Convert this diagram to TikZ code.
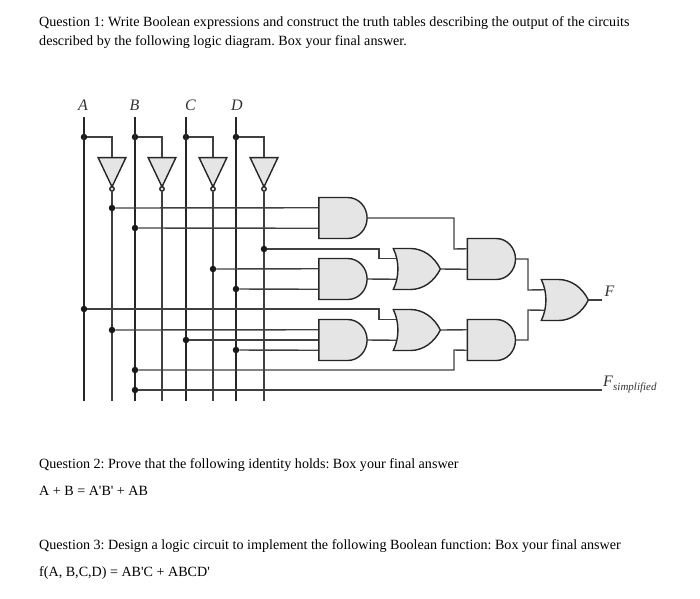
\documentclass[tikz,border=0pt]{standalone}
\usepackage{fontspec}
\setmainfont{Liberation Serif}[Ligatures=TeXOff]
\usetikzlibrary{shapes.gates.logic.US}
\tikzset{
  textline/.style={anchor=base west,inner sep=0,font=\fontsize{14.1}{16}\selectfont\frenchspacing},
  inlabel/.style={inner sep=0,font=\fontsize{16}{18}\selectfont\itshape,text=black!80},
  bus/.style={line width=1.8pt,draw=black!85},
  wire/.style={line width=1.4pt,draw=black!75},
  dotnode/.style={circle,fill=black!90,inner sep=0,minimum size=6.5pt},
  andgate/.style={and gate US,xscale=.94,draw=black!85,line width=1.4pt,fill=black!10,inner sep=0,logic gate inputs=nnn,
    minimum height=41pt,logic gate input sep=10pt},
  orgate/.style={or gate US,xscale=.84,draw=black!85,line width=1.4pt,fill=black!10,inner sep=0,logic gate inputs=nnn,
    minimum height=41pt,logic gate input sep=10pt},
  notgate/.style={not gate US,rotate=-90,scale=.85,draw=black!85,line width=1.4pt,fill=black!10,inner sep=0,
    minimum height=28pt,minimum width=28pt,logic gate inverted radius=2.6pt}
}
\begin{document}
\begin{tikzpicture}[x=1pt,y=-1pt]
\useasboundingbox (0,0) rectangle (700,598);
\node[textline](Q1a) at (39,26){Question 1: Write Boolean expressions and construct the truth tables describing the output of the circuits};
\node[textline](Q1b) at (39,45){described by the following logic diagram. Box your final answer.};
\node[textline](Q2a) at (39,468){Question 2: Prove that the following identity holds: Box your final answer};
\node[textline](Q2b) at (39,495){A + B = A'B' + AB};
\node[textline](Q3a) at (39,549){Question 3: Design a logic circuit to implement the following Boolean function: Box your final answer};
\node[textline](Q3b) at (39,576){f(A, B,C,D) = AB'C + ABCD'};
\node[inlabel](LA) at (83,105){A};
\node[inlabel](LB) at (134.5,105){B};
\node[inlabel](LC) at (190.5,105){C};
\node[inlabel](LD) at (237,105){D};
\coordinate(TA) at (84,117);
\coordinate(TB) at (135,117);
\coordinate(TC) at (186,117);
\coordinate(TD) at (236,117);
\coordinate(EA) at (84,401);
\coordinate(EB) at (135,401);
\coordinate(EC) at (186,401);
\coordinate(ED) at (236,401);
\coordinate(EAn) at (112,401);
\coordinate(EBn) at (162,401);
\coordinate(ECn) at (213,401);
\coordinate(EDn) at (264,401);
\node[notgate](NA) at (112,167.5){};
\node[notgate](NB) at (162,167.5){};
\node[notgate](NC) at (213,167.5){};
\node[notgate](ND) at (264,167.5){};
\node[dotnode](SA) at (84,137){};
\node[dotnode](SB) at (135,137){};
\node[dotnode](SC) at (186,137){};
\node[dotnode](SD) at (236,137){};
\draw[bus] (TA) -- (EA);
\draw[bus] (TB) -- (EB);
\draw[bus] (TC) -- (EC);
\draw[bus] (TD) -- (ED);
\draw[wire] (SA) -| (NA.input);
\draw[wire] (SB) -| (NB.input);
\draw[wire] (SC) -| (NC.input);
\draw[wire] (SD) -| (ND.input);
\draw[wire] (NA.output) -- (EAn);
\draw[wire] (NB.output) -- (EBn);
\draw[wire] (NC.output) -- (ECn);
\draw[wire] (ND.output) -- (EDn);
\node[andgate](G1) at (341.4,218){};
\node[andgate](G2) at (341.4,279){};
\node[andgate](G3) at (341.4,340){};
\node[orgate](O1) at (413.4,269){};
\node[orgate](O2) at (413.4,330){};
\node[andgate](G4) at (489.8,259){};
\node[andgate](G5) at (489.8,340){};
\node[orgate](O3) at (561.4,300){};
\node[dotnode](J1) at (112,208){};
\node[dotnode](J2) at (135,228){};
\node[dotnode](J3) at (264,249){};
\node[dotnode](J4) at (213,269){};
\node[dotnode](J5) at (236,289){};
\node[dotnode](J6) at (84,309){};
\node[dotnode](J7) at (112,330){};
\node[dotnode](J8) at (186,340){};
\node[dotnode](J9) at (236,350){};
\node[dotnode](J10) at (135,370){};
\node[dotnode](J11) at (135,390){};
\draw[wire] (J1) -- (G1.input 1);
\draw[wire] (J2) -- (G1.input 3);
\draw[wire] (J4) -- (G2.input 1);
\draw[wire] (J5) -- (G2.input 3);
\draw[wire] (J7) -- (G3.input 1);
\draw[wire] (J8) -- (G3.input 2);
\draw[wire] (J9) -- (G3.input 3);
\draw[wire] (J3) -- (379,249) |- (O1.input 1);
\draw[wire] (J6) -- (379,309) |- (O2.input 1);
\draw[wire] (G2.output) -- (O1.input 3);
\draw[wire] (G3.output) -- (O2.input 3);
\draw[wire] (G1.output) -| (454,249) -- (G4.input 1);
\draw[wire] (O1.output) -- (G4.input 3);
\draw[wire] (O2.output) -- (G5.input 1);
\draw[wire] (J10) -| (454,350) -- (G5.input 3);
\draw[wire] (G4.output) -| (528,290) -- (O3.input 1);
\draw[wire] (G5.output) -| (528,310) -- (O3.input 3);
\coordinate(FO) at (602,300);
\coordinate(FS) at (602,390);
\draw[wire] (O3.output) -- (FO);
\draw[wire] (J11) -- (FS);
\node[inlabel,anchor=west](LF) at (604.5,291){F};
\node[inlabel,anchor=west](LS) at (603,381){F};
\node[inlabel,anchor=west,font=\fontsize{11}{13}\selectfont\itshape](LT) at (613,388){simplified};
\end{tikzpicture}
\end{document}
